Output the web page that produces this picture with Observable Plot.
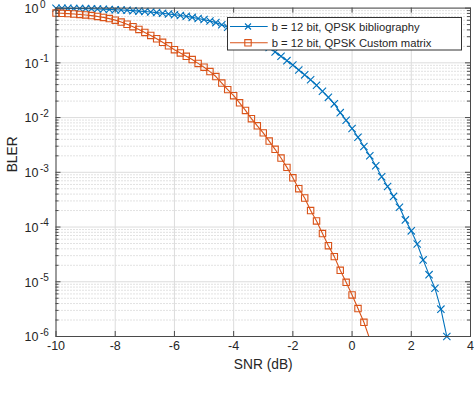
<!DOCTYPE html>
<html><head><meta charset="utf-8">
<script src="https://cdn.jsdelivr.net/npm/d3@7"></script>
<script src="https://cdn.jsdelivr.net/npm/@observablehq/plot@0.6"></script>
<style>
body{margin:0;background:#fff;}
#wrap{position:relative;width:474px;height:399px;font-family:"Liberation Sans",Arial,Helvetica,sans-serif;}
#legend{position:absolute;left:227px;top:16.5px;}
</style></head><body><div id="wrap"></div>
<script>
// ---- data ----
const snrBiblio = [-10,-9.8,-9.6,-9.4,-9.2,-9,-8.8,-8.6,-8.4,-8.2,-8,-7.8,-7.6,-7.4,-7.2,-7,-6.8,-6.6,-6.4,-6.2,-6,-5.8,-5.6,-5.4,-5.2,-5,-4.8,-4.6,-4.4,-4.2,-4,-3.8,-3.6,-3.4,-3.2,-3,-2.8,-2.6,-2.4,-2.2,-2,-1.8,-1.6,-1.4,-1.2,-1,-0.8,-0.6,-0.4,-0.2,0,0.2,0.4,0.6,0.8,1,1.2,1.4,1.6,1.8,2,2.2,2.4,2.6,2.8,3,3.2];
const blerBiblio = [0.9931,0.9908,0.9886,0.9863,0.9817,0.9772,0.9705,0.9638,0.9550,0.9462,0.9354,0.9247,0.9120,0.8974,0.8810,0.8650,0.8472,0.8279,0.8054,0.7816,0.7586,0.7345,0.7079,0.6761,0.6457,0.6166,0.5821,0.5433,0.4955,0.4467,0.4074,0.3715,0.3311,0.2951,0.2570,0.2239,0.1905,0.1585,0.1318,0.1096,0.0912,0.0741,0.0603,0.0490,0.0389,0.0302,0.0234,0.0178,0.0123,0.00891,0.00631,0.00437,0.00295,0.00200,0.00132,8.32e-4,5.50e-4,3.63e-4,2.29e-4,1.35e-4,8.51e-5,4.90e-5,2.51e-5,1.35e-5,7.59e-6,3.16e-6,1.0e-6];
const snrCustom = [-10,-9.8,-9.6,-9.4,-9.2,-9,-8.8,-8.6,-8.4,-8.2,-8,-7.8,-7.6,-7.4,-7.2,-7,-6.8,-6.6,-6.4,-6.2,-6,-5.8,-5.6,-5.4,-5.2,-5,-4.8,-4.6,-4.4,-4.2,-4,-3.8,-3.6,-3.4,-3.2,-3,-2.8,-2.6,-2.4,-2.2,-2,-1.8,-1.6,-1.4,-1.2,-1,-0.8,-0.6,-0.4,-0.2,0,0.2,0.4,0.6];
const blerCustom = [0.8128,0.8035,0.7925,0.7798,0.7656,0.7499,0.7295,0.7047,0.6761,0.6427,0.6026,0.5559,0.5070,0.4571,0.4074,0.3589,0.3162,0.2754,0.2371,0.2042,0.1738,0.1514,0.1318,0.1148,0.0977,0.0832,0.0692,0.0562,0.0427,0.0324,0.0251,0.0186,0.0135,0.00955,0.00708,0.00525,0.00372,0.00263,0.00182,0.00123,7.94e-4,5.01e-4,3.39e-4,2.00e-4,1.29e-4,7.59e-5,4.57e-5,2.88e-5,1.62e-5,9.77e-6,5.75e-6,3.24e-6,1.82e-6,8.9e-7];
const xTicks = [-10,-8,-6,-4,-2,0,2,4];
const yDecades = [1e-6,1e-5,1e-4,1e-3,1e-2,1e-1,1];
const yExponents = ["-6","-5","-4","-3","-2","-1","0"];
const seriesNames = ["b = 12 bit, QPSK bibliography","b = 12 bit, QPSK Custom matrix"];
const seriesColors = ["#0072BD","#D95319"];
const xLabel = "SNR (dB)";
const yLabel = "BLER";

// ---- build tables ----
const biblio = snrBiblio.map((s,i)=>({snr:s, bler:blerBiblio[i]}));
const custom = snrCustom.map((s,i)=>({snr:s, bler:blerCustom[i]}));
const yMinor = d3.scaleLog().domain([1e-6,1]).ticks().filter(v => Math.abs(Math.log10(v)-Math.round(Math.log10(v)))>1e-6);
const yLabels = yDecades.map((v,i)=>({v, e:yExponents[i]}));

const W=474,H=399,ML=55.5,MR=4,MT=7.6,MB=63;
const PW=W-ML-MR, PH=H-MT-MB;
const axisColor="#4a4a4a", textColor="#262626";
const inFrame = d => d.bler >= 1e-6 && d.bler <= 1;

const chart = Plot.plot({
  width:W, height:H, marginLeft:ML, marginRight:MR, marginTop:MT, marginBottom:MB,
  style:{fontFamily:'"Liberation Sans",Arial,Helvetica,sans-serif', background:"white", overflow:"visible"},
  x:{domain:[-10,4], axis:null},
  y:{type:"log", domain:[1e-6,1], axis:null},
  marks:[
    Plot.ruleY(yMinor,{y:d=>d, stroke:"#c4c4c4", strokeDasharray:"1,2", strokeWidth:1}),
    Plot.ruleX(xTicks,{x:d=>d, stroke:"#dcdcdc"}),
    Plot.ruleY(yDecades,{y:d=>d, stroke:"#dcdcdc"}),
    Plot.line(biblio,{x:"snr", y:"bler", stroke:seriesColors[0], strokeWidth:1.1, clip:true}),
    Plot.dot(biblio,{x:"snr", y:"bler", symbol:"times", r:3.4, stroke:seriesColors[0], strokeWidth:1.1, fill:"none", filter:inFrame}),
    Plot.line(custom,{x:"snr", y:"bler", stroke:seriesColors[1], strokeWidth:1.1, clip:true}),
    Plot.dot(custom,{x:"snr", y:"bler", symbol:"square", r:3.6, stroke:seriesColors[1], strokeWidth:1.1, fill:"none", filter:inFrame}),
    Plot.frame({stroke:axisColor}),
    // inward ticks
    Plot.tickX(xTicks,{x:d=>d, insetTop:PH-5, stroke:axisColor}),
    Plot.tickX(xTicks,{x:d=>d, insetBottom:PH-5, stroke:axisColor}),
    Plot.tickY(yDecades,{y:d=>d, insetRight:PW-5, stroke:axisColor}),
    Plot.tickY(yDecades,{y:d=>d, insetLeft:PW-5, stroke:axisColor}),
    Plot.tickY(yMinor,{y:d=>d, insetRight:PW-3, stroke:axisColor}),
    Plot.tickY(yMinor,{y:d=>d, insetLeft:PW-3, stroke:axisColor}),
    // tick labels
    Plot.text(xTicks,{x:d=>d, frameAnchor:"bottom", dy:13.5, text:d=>String(d), fontSize:12.5, fill:textColor}),
    Plot.text(yLabels,{y:"v", frameAnchor:"left", dx:-(ML-38), dy:0.8, text:()=>"10", textAnchor:"end", fontSize:12.5, fill:textColor}),
    Plot.text(yLabels,{y:"v", frameAnchor:"left", dx:-(ML-39.5), dy:-3.8, text:"e", textAnchor:"start", fontSize:10, fill:textColor}),
    // axis labels
    Plot.text([xLabel],{frameAnchor:"bottom", dy:32, text:d=>d, fontSize:13.75, fill:textColor}),
    Plot.text([yLabel],{frameAnchor:"left", dx:-43.5, rotate:-90, text:d=>d, fontSize:13.75, fill:textColor})
  ]
});
const wrap = document.getElementById("wrap");
wrap.appendChild(chart);

// ---- legend (inside the axes, top right) ----
const ns="http://www.w3.org/2000/svg";
const lg=document.createElementNS(ns,"svg");
lg.setAttribute("id","legend"); lg.setAttribute("width","236"); lg.setAttribute("height","34");
const box=document.createElementNS(ns,"rect");
box.setAttribute("x","0.5");box.setAttribute("y","0.5");box.setAttribute("width","234");box.setAttribute("height","32.5");
box.setAttribute("fill","white");box.setAttribute("stroke","#333");box.setAttribute("stroke-width","1");
lg.appendChild(box);
const rowsY=[9.5,25.8];
seriesNames.forEach((name,i)=>{
  const y=rowsY[i], c=seriesColors[i];
  const ln=document.createElementNS(ns,"line");
  ln.setAttribute("x1","3");ln.setAttribute("x2","40.7");ln.setAttribute("y1",y);ln.setAttribute("y2",y);
  ln.setAttribute("stroke",c);ln.setAttribute("stroke-width","1.1");lg.appendChild(ln);
  const mk=document.createElementNS(ns,"path");
  const cx=21;
  if(i===0) mk.setAttribute("d",`M${cx-3},${y-3}L${cx+3},${y+3}M${cx-3},${y+3}L${cx+3},${y-3}`);
  else mk.setAttribute("d",`M${cx-3.2},${y-3.2}h6.4v6.4h-6.4z`);
  mk.setAttribute("fill","none");mk.setAttribute("stroke",c);mk.setAttribute("stroke-width","1.1");lg.appendChild(mk);
  const t=document.createElementNS(ns,"text");
  t.setAttribute("x","44.7");t.setAttribute("y",y);t.setAttribute("dominant-baseline","central");
  t.setAttribute("font-size","11.25");t.setAttribute("fill",textColor);
  t.setAttribute("font-family",'"Liberation Sans",Arial,Helvetica,sans-serif');
  t.textContent=name; lg.appendChild(t);
});
wrap.appendChild(lg);
</script></body></html>
